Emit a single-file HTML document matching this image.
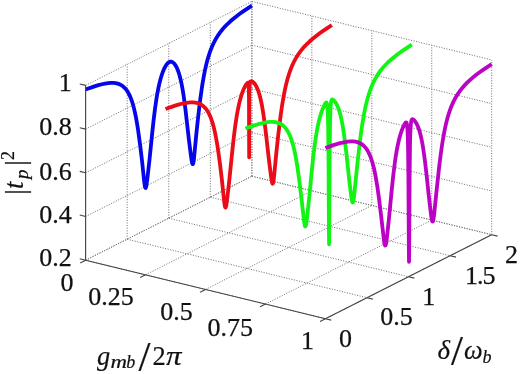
<!DOCTYPE html>
<html><head><meta charset="utf-8"><style>
html,body{margin:0;padding:0;background:#fff;}
svg{display:block;}
.g{stroke:#787878;stroke-width:1;stroke-dasharray:1.1 1.5;fill:none;}
.a{stroke:#444;stroke-width:1.1;fill:none;}
.t{font-family:"Liberation Serif","DejaVu Serif",serif;font-size:26px;fill:#111;stroke:#111;stroke-width:0.25;}
.m{font-family:"Liberation Serif","DejaVu Serif",serif;font-style:italic;fill:#111;stroke:#111;stroke-width:0.2;}
.c{fill:none;stroke-width:3.8;stroke-linecap:butt;stroke-linejoin:round;}
</style></head><body>
<svg width="520" height="374" viewBox="0 0 520 374">
<rect width="520" height="374" fill="#fff"/>
<line x1="85.60" y1="260.20" x2="251.90" y2="176.20" class="g"/>
<line x1="145.55" y1="274.82" x2="311.85" y2="190.82" class="g"/>
<line x1="205.50" y1="289.45" x2="371.80" y2="205.45" class="g"/>
<line x1="265.45" y1="304.07" x2="431.75" y2="220.07" class="g"/>
<line x1="325.40" y1="318.70" x2="491.70" y2="234.70" class="g"/>
<line x1="85.60" y1="260.20" x2="325.40" y2="318.70" class="g"/>
<line x1="127.17" y1="239.20" x2="366.97" y2="297.70" class="g"/>
<line x1="168.75" y1="218.20" x2="408.55" y2="276.70" class="g"/>
<line x1="210.32" y1="197.20" x2="450.12" y2="255.70" class="g"/>
<line x1="251.90" y1="176.20" x2="491.70" y2="234.70" class="g"/>
<line x1="85.60" y1="260.20" x2="85.60" y2="85.40" class="g"/>
<line x1="127.17" y1="239.20" x2="127.17" y2="64.40" class="g"/>
<line x1="168.75" y1="218.20" x2="168.75" y2="43.40" class="g"/>
<line x1="210.32" y1="197.20" x2="210.32" y2="22.40" class="g"/>
<line x1="251.90" y1="176.20" x2="251.90" y2="1.40" class="g"/>
<line x1="85.60" y1="260.20" x2="251.90" y2="176.20" class="g"/>
<line x1="85.60" y1="216.50" x2="251.90" y2="132.50" class="g"/>
<line x1="85.60" y1="172.80" x2="251.90" y2="88.80" class="g"/>
<line x1="85.60" y1="129.10" x2="251.90" y2="45.10" class="g"/>
<line x1="85.60" y1="85.40" x2="251.90" y2="1.40" class="g"/>
<line x1="251.90" y1="176.20" x2="251.90" y2="1.40" class="g"/>
<line x1="311.85" y1="190.82" x2="311.85" y2="16.02" class="g"/>
<line x1="371.80" y1="205.45" x2="371.80" y2="30.65" class="g"/>
<line x1="431.75" y1="220.07" x2="431.75" y2="45.27" class="g"/>
<line x1="491.70" y1="234.70" x2="491.70" y2="59.90" class="g"/>
<line x1="251.90" y1="176.20" x2="491.70" y2="234.70" class="g"/>
<line x1="251.90" y1="132.50" x2="491.70" y2="191.00" class="g"/>
<line x1="251.90" y1="88.80" x2="491.70" y2="147.30" class="g"/>
<line x1="251.90" y1="45.10" x2="491.70" y2="103.60" class="g"/>
<line x1="251.90" y1="1.40" x2="491.70" y2="59.90" class="g"/>
<path class="c" stroke="#0606ea" d="M85.60 89.59 L90.26 87.84 L94.50 86.38 L98.41 85.17 L101.90 84.24 L105.14 83.54 L108.05 83.10 L110.79 82.88 L113.29 82.89 L115.62 83.14 L117.78 83.63 L119.77 84.37 L121.60 85.35 L123.27 86.55 L124.85 88.02 L126.34 89.79 L127.76 91.87 L129.00 94.11 L130.17 96.59 L131.25 99.31 L132.33 102.48 L133.33 105.88 L134.33 109.79 L135.24 113.87 L136.16 118.49 L137.15 124.17 L138.07 129.99 L140.15 145.20 L141.98 160.39 L143.89 178.80 L144.47 183.79 L145.05 187.08 L145.38 187.91 L145.63 187.99 L145.97 187.39 L146.38 185.63 L147.38 178.54 L149.46 160.15 L152.37 131.51 L153.62 120.02 L155.11 107.93 L156.61 97.80 L157.52 92.52 L158.52 87.45 L159.60 82.68 L160.68 78.55 L161.82 74.80 L163.01 71.47 L164.24 68.58 L165.50 66.16 L166.41 64.73 L167.33 63.57 L168.25 62.68 L169.17 62.06 L170.08 61.72 L171.00 61.66 L171.92 61.86 L172.84 62.35 L173.76 63.11 L174.67 64.14 L175.56 65.45 L176.44 67.01 L177.26 68.78 L178.06 70.78 L178.89 73.20 L179.64 75.71 L180.72 79.95 L181.72 84.60 L182.72 90.05 L183.63 95.80 L185.46 109.50 L188.87 139.41 L190.87 155.20 L191.53 159.82 L192.03 162.53 L192.45 163.88 L192.70 164.18 L192.86 164.12 L193.11 163.66 L193.36 162.72 L193.94 158.87 L196.44 132.97 L198.27 115.92 L200.26 99.24 L202.18 85.69 L204.01 75.03 L205.00 70.06 L206.00 65.61 L207.08 61.30 L208.16 57.46 L209.33 53.76 L210.49 50.46 L211.82 47.10 L213.32 43.74 L214.90 40.61 L216.56 37.68 L218.39 34.81 L220.30 32.13 L222.38 29.50 L224.71 26.85 L227.20 24.28 L229.87 21.77 L232.78 19.24 L235.94 16.69 L239.43 14.07 L243.17 11.42 L247.33 8.63 L251.90 5.70"/>
<path class="c" stroke="#ea0c18" d="M165.53 109.09 L170.19 107.34 L174.43 105.88 L178.34 104.67 L181.83 103.74 L185.07 103.04 L187.98 102.60 L190.73 102.38 L193.22 102.39 L195.55 102.64 L197.71 103.14 L199.71 103.87 L201.54 104.85 L203.20 106.05 L204.78 107.53 L206.28 109.30 L207.69 111.38 L208.94 113.61 L210.10 116.10 L211.18 118.82 L212.26 121.99 L213.26 125.40 L214.26 129.31 L215.17 133.40 L216.09 138.02 L217.09 143.71 L218.00 149.53 L220.00 164.11 L221.91 179.96 L223.82 198.37 L224.40 203.34 L224.99 206.63 L225.32 207.45 L225.40 207.53 L225.57 207.52 L225.90 206.91 L226.32 205.14 L227.31 198.02 L229.39 179.58 L232.22 151.70 L233.55 139.41 L235.05 127.32 L236.54 117.20 L237.46 111.92 L238.46 106.86 L239.45 102.43 L240.53 98.27 L241.68 94.48 L242.87 91.10 L244.10 88.19 L245.35 85.77 L246.12 84.56 L246.86 83.60 L247.51 82.98 L247.99 82.77 L248.29 82.93 L248.49 83.42 L248.75 85.75 L248.89 90.96 L248.99 101.11 L249.15 157.28 L249.31 99.51 L249.42 89.59 L249.58 84.63 L249.73 83.17 L249.93 82.25 L250.24 81.67 L250.70 81.36 L251.45 81.30 L252.32 81.57 L253.22 82.15 L254.12 83.01 L255.25 84.50 L256.34 86.39 L257.40 88.68 L258.41 91.36 L259.41 94.53 L260.32 97.97 L261.24 101.97 L262.07 106.17 L263.48 114.64 L264.90 124.87 L266.06 134.52 L268.89 159.54 L270.97 175.90 L271.55 179.83 L271.97 182.04 L272.38 183.41 L272.63 183.71 L272.80 183.66 L273.05 183.20 L273.30 182.26 L273.88 178.42 L276.37 152.54 L278.20 135.48 L280.20 118.79 L282.11 105.22 L283.94 94.55 L284.94 89.58 L285.93 85.13 L287.02 80.81 L288.10 76.97 L289.26 73.27 L290.42 69.97 L291.76 66.60 L293.25 63.25 L294.83 60.11 L296.49 57.18 L298.32 54.31 L300.24 51.63 L302.32 49.00 L304.64 46.35 L307.14 43.78 L309.80 41.27 L312.71 38.74 L315.87 36.19 L319.36 33.57 L323.10 30.92 L327.26 28.13 L331.83 25.20"/>
<path class="c" stroke="#12f414" d="M245.47 128.59 L250.04 126.87 L254.28 125.41 L258.19 124.20 L261.68 123.27 L264.92 122.57 L267.83 122.12 L270.58 121.90 L273.07 121.92 L275.40 122.17 L277.48 122.64 L279.48 123.37 L281.30 124.34 L283.05 125.60 L284.63 127.08 L286.13 128.87 L287.46 130.84 L288.62 132.91 L289.79 135.38 L290.87 138.07 L291.95 141.23 L292.95 144.61 L293.86 148.17 L294.77 152.22 L295.69 156.80 L297.35 166.64 L299.10 179.08 L301.26 196.70 L304.09 221.52 L304.75 225.32 L305.09 226.24 L305.33 226.43 L305.50 226.31 L305.67 226.01 L306.08 224.47 L306.50 222.01 L307.08 217.53 L308.74 202.08 L311.82 170.50 L313.15 157.82 L314.81 144.21 L315.65 138.39 L316.56 132.70 L317.64 126.85 L318.72 121.83 L319.97 116.93 L321.21 112.87 L322.86 108.45 L324.78 104.29 L325.39 103.25 L325.86 102.66 L326.25 102.48 L326.58 102.70 L326.89 103.44 L327.16 104.72 L327.58 109.13 L327.91 116.42 L328.17 127.38 L328.50 156.93 L328.94 232.73 L329.08 244.29 L329.22 232.59 L329.65 156.35 L329.99 126.46 L330.25 115.24 L330.57 107.62 L331.00 102.79 L331.27 101.23 L331.58 100.18 L331.90 99.63 L332.29 99.41 L332.76 99.51 L333.36 99.94 L334.31 100.91 L335.29 102.15 L336.14 103.45 L336.94 104.90 L338.18 107.71 L339.43 111.34 L340.51 115.26 L341.59 120.01 L342.50 124.77 L343.33 129.74 L345.00 141.66 L346.33 152.98 L349.40 181.45 L351.15 195.84 L351.65 199.15 L352.06 201.20 L352.48 202.34 L352.65 202.49 L352.81 202.45 L353.06 202.03 L353.40 200.80 L354.06 196.35 L356.89 168.69 L358.97 149.61 L360.71 135.29 L362.38 123.66 L364.20 113.07 L365.12 108.54 L366.12 104.10 L367.12 100.13 L368.20 96.27 L369.36 92.57 L370.52 89.26 L371.85 85.90 L373.35 82.55 L374.93 79.42 L376.59 76.50 L378.42 73.64 L380.34 70.96 L382.41 68.35 L384.74 65.71 L387.15 63.22 L389.82 60.71 L392.73 58.18 L395.89 55.64 L399.38 53.01 L403.12 50.36 L407.28 47.58 L411.77 44.70"/>
<path class="c" stroke="#bc02c4" d="M325.40 148.09 L329.97 146.37 L334.21 144.91 L338.12 143.70 L341.61 142.77 L344.86 142.07 L347.77 141.63 L350.51 141.41 L353.01 141.42 L355.33 141.67 L357.41 142.14 L359.41 142.88 L361.24 143.85 L362.98 145.11 L364.56 146.60 L366.06 148.39 L367.39 150.36 L368.55 152.44 L369.72 154.91 L370.80 157.61 L371.88 160.77 L372.88 164.17 L373.79 167.74 L374.71 171.80 L375.62 176.40 L377.29 186.27 L378.95 198.12 L380.94 214.30 L384.02 240.87 L384.35 242.99 L384.69 244.55 L385.02 245.43 L385.27 245.60 L385.43 245.47 L385.60 245.16 L386.02 243.64 L386.52 240.64 L387.01 236.77 L388.68 221.33 L391.67 190.48 L393.08 176.96 L394.75 163.37 L395.58 157.57 L396.49 151.90 L397.57 146.08 L398.74 140.74 L399.90 136.22 L401.14 132.20 L402.75 127.95 L404.56 124.15 L405.17 123.13 L405.66 122.56 L406.05 122.39 L406.39 122.61 L406.71 123.35 L406.99 124.62 L407.43 129.02 L407.77 136.27 L408.04 147.10 L408.40 176.10 L408.86 250.26 L409.01 261.83 L409.17 250.10 L409.63 175.48 L409.98 146.12 L410.25 135.02 L410.59 127.42 L411.04 122.59 L411.31 121.03 L411.63 119.97 L411.96 119.41 L412.36 119.17 L412.84 119.25 L413.45 119.64 L414.34 120.49 L415.26 121.61 L416.09 122.83 L416.87 124.23 L418.11 127.00 L419.28 130.33 L420.44 134.49 L421.52 139.21 L422.44 143.95 L423.27 148.90 L424.93 160.79 L426.34 172.87 L429.34 200.70 L431.00 214.47 L431.50 217.85 L432.00 220.37 L432.41 221.50 L432.58 221.65 L432.75 221.62 L433.00 221.21 L433.33 220.02 L433.99 215.70 L437.07 186.03 L439.07 167.83 L440.73 154.29 L442.39 142.72 L444.22 132.21 L445.14 127.71 L446.13 123.30 L447.13 119.35 L448.21 115.52 L449.38 111.85 L450.54 108.56 L451.87 105.22 L453.37 101.89 L454.95 98.78 L456.61 95.87 L458.44 93.02 L460.35 90.36 L462.43 87.75 L464.76 85.12 L467.17 82.64 L469.83 80.14 L472.74 77.61 L475.90 75.08 L479.31 72.51 L483.05 69.86 L487.21 67.08 L491.70 64.20"/>
<line x1="85.60" y1="260.20" x2="325.40" y2="318.70" class="a"/>
<line x1="325.40" y1="318.70" x2="491.70" y2="234.70" class="a"/>
<line x1="85.60" y1="260.20" x2="85.60" y2="85.40" class="a"/>
<line x1="85.60" y1="260.20" x2="79.77" y2="258.78" class="a"/>
<line x1="85.60" y1="216.50" x2="79.77" y2="215.08" class="a"/>
<line x1="85.60" y1="172.80" x2="79.77" y2="171.38" class="a"/>
<line x1="85.60" y1="129.10" x2="79.77" y2="127.68" class="a"/>
<line x1="85.60" y1="85.40" x2="79.77" y2="83.98" class="a"/>
<line x1="85.60" y1="260.20" x2="80.24" y2="262.91" class="a"/>
<line x1="145.55" y1="274.82" x2="140.19" y2="277.53" class="a"/>
<line x1="205.50" y1="289.45" x2="200.14" y2="292.16" class="a"/>
<line x1="265.45" y1="304.07" x2="260.09" y2="306.78" class="a"/>
<line x1="325.40" y1="318.70" x2="320.04" y2="321.41" class="a"/>
<line x1="325.40" y1="318.70" x2="331.23" y2="320.12" class="a"/>
<line x1="366.97" y1="297.70" x2="372.80" y2="299.12" class="a"/>
<line x1="408.55" y1="276.70" x2="414.38" y2="278.12" class="a"/>
<line x1="450.12" y1="255.70" x2="455.95" y2="257.12" class="a"/>
<line x1="491.70" y1="234.70" x2="497.53" y2="236.12" class="a"/>
<g class="t" text-anchor="end">
<text x="71.8" y="91.1">1</text>
<text x="71.7" y="135.2">0.8</text>
<text x="71.7" y="179.6">0.6</text>
<text x="71.7" y="222.9">0.4</text>
<text x="71.7" y="265.6">0.2</text>
</g>
<g class="t">
<text x="60.5" y="291">0</text>
<text x="88.3" y="305.3">0.25</text>
<text x="160.2" y="320.3">0.5</text>
<text x="207.6" y="335.5">0.75</text>
<text x="301" y="349.3">1</text>
<text x="339" y="347.2">0</text>
<text x="380.2" y="325.4">0.5</text>
<text x="422.3" y="304.6">1</text>
<text x="465" y="283.7" textLength="30.4" lengthAdjust="spacing">1.5</text>
<text x="505" y="262.8">2</text>
</g>
<g class="m">
<text x="97" y="365" font-size="26.4">g</text>
<text x="110.5" y="368" font-size="18" textLength="16.5" lengthAdjust="spacingAndGlyphs">m</text>
<text x="126.3" y="368" font-size="18">b</text>
<text x="138.6" y="371.3" font-size="43" font-style="normal">/</text>
<text x="152.5" y="365" font-size="26.4" font-style="normal">2</text>
<text x="166" y="365.3" font-size="26.4" textLength="15.5" lengthAdjust="spacingAndGlyphs">π</text>
<text x="437.5" y="358.6" font-size="27">δ</text>
<text x="451.1" y="365.4" font-size="43" font-style="normal">/</text>
<text x="464" y="358.6" font-size="26.4">ω</text>
<text x="482.5" y="362.5" font-size="18">b</text>
<g transform="translate(23.4,195) rotate(-90)">
<text x="0" y="1.3" font-size="30" font-style="normal">|</text>
<text x="6" y="0" font-size="26.4">t</text>
<text x="16" y="5" font-size="19">p</text>
<text x="29" y="1.3" font-size="30" font-style="normal">|</text>
<text x="35" y="-9" font-size="18" font-style="normal">2</text>
</g>
</g>

</svg>
</body></html>
